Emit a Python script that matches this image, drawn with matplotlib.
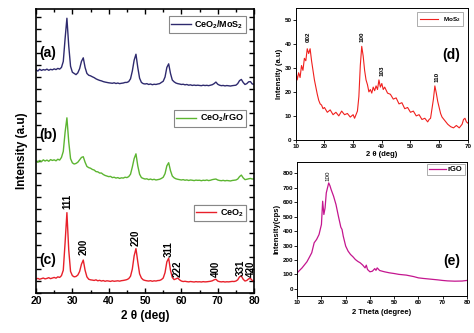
import numpy as np
import matplotlib
matplotlib.use("Agg")
import matplotlib.pyplot as plt
from matplotlib.ticker import MultipleLocator

plt.rcParams['font.family'] = ['Liberation Sans', 'DejaVu Sans']
plt.rcParams['font.weight'] = 'bold'
plt.rcParams['mathtext.fontset'] = 'custom'
plt.rcParams['mathtext.rm'] = 'Liberation Sans:bold'
plt.rcParams['mathtext.it'] = 'Liberation Sans:bold'
plt.rcParams['mathtext.bf'] = 'Liberation Sans:bold'
plt.rcParams['mathtext.default'] = 'rm'

# ---- left panel: XRD patterns (stacked, arbitrary units), 2theta 20..80 step 0.5
two_theta = np.arange(20, 80.5, 0.5)

ceo2 = [
    1.17, 1.22, 1.15, 1.20, 1.25, 1.18, 1.22, 1.28, 1.20, 1.25,
    1.30, 1.24, 1.35, 1.30, 1.45, 1.90, 4.20, 6.70, 3.60, 1.80,
    1.45, 1.35, 1.38, 1.50, 1.80, 2.40, 2.75, 1.90, 1.35, 1.15,
    1.10, 1.08, 1.05, 1.10, 1.02, 1.06, 1.00, 1.04, 0.98, 1.02,
    1.00, 0.97, 1.02, 0.98, 1.00, 1.02, 0.99, 1.03, 1.05, 1.08,
    1.12, 1.20, 1.40, 2.00, 3.10, 3.70, 2.60, 1.60, 1.25, 1.10,
    1.05, 1.02, 1.00, 1.03, 0.98, 1.02, 1.00, 1.04, 1.05, 1.12,
    1.25, 1.70, 2.60, 2.90, 1.90, 1.30, 1.12, 1.18, 1.25, 1.10,
    1.00, 0.96, 0.98, 0.95, 0.93, 0.96, 0.94, 0.92, 0.95, 0.93,
    0.94, 0.92, 0.95, 0.93, 0.94, 0.96, 0.98, 1.02, 1.10, 1.15,
    1.00, 0.95, 0.93, 0.95, 0.92, 0.94, 0.93, 0.95, 0.97, 0.96,
    1.00, 1.10, 1.35, 1.42, 1.15, 1.00, 1.05, 1.18, 1.22, 1.05,
    1.00]

ceo2_rgo = [
    11.00, 10.90, 11.05, 10.95, 11.10, 11.00, 11.08, 10.98, 11.12, 11.05,
    11.10, 11.02, 11.15, 11.08, 11.30, 11.80, 13.40, 14.60, 12.60, 11.20,
    10.85, 10.75, 10.80, 10.90, 11.10, 11.30, 11.36, 10.90, 10.55, 10.45,
    10.40, 10.30, 10.25, 10.12, 10.10, 10.00, 10.00, 9.88, 9.80, 9.75,
    9.70, 9.72, 9.62, 9.65, 9.58, 9.62, 9.55, 9.60, 9.58, 9.65,
    9.62, 9.70, 9.90, 10.50, 11.20, 11.60, 10.60, 9.90, 9.62, 9.55,
    9.50, 9.52, 9.45, 9.50, 9.44, 9.48, 9.42, 9.45, 9.48, 9.55,
    9.65, 9.95, 10.60, 10.86, 10.20, 9.75, 9.60, 9.52, 9.48, 9.45,
    9.42, 9.45, 9.40, 9.43, 9.38, 9.42, 9.40, 9.37, 9.41, 9.39,
    9.40, 9.36, 9.40, 9.38, 9.42, 9.37, 9.40, 9.45, 9.48, 9.50,
    9.42, 9.38, 9.36, 9.39, 9.35, 9.38, 9.36, 9.34, 9.38, 9.40,
    9.42, 9.50, 9.70, 9.83, 9.60, 9.45, 9.48, 9.52, 9.55, 9.50,
    9.52]

ceo2_mos2 = [
    18.60, 18.50, 18.65, 18.55, 18.62, 18.58, 18.66, 18.56, 18.64, 18.60,
    18.68, 18.62, 18.72, 18.66, 18.80, 19.30, 21.20, 22.90, 20.60, 18.90,
    18.40, 18.30, 18.20, 18.35, 18.70, 19.30, 19.60, 18.80, 18.30, 18.15,
    18.10, 18.02, 17.95, 17.85, 17.78, 17.72, 17.68, 17.62, 17.58, 17.55,
    17.52, 17.50, 17.48, 17.52, 17.46, 17.50, 17.45, 17.48, 17.50, 17.55,
    17.55, 17.62, 17.85, 18.50, 19.40, 19.90, 18.80, 17.90, 17.55, 17.45,
    17.42, 17.45, 17.38, 17.42, 17.36, 17.40, 17.38, 17.42, 17.45, 17.55,
    17.65, 18.00, 18.80, 19.10, 18.30, 17.75, 17.60, 17.50, 17.45, 17.42,
    17.38, 17.40, 17.35, 17.38, 17.32, 17.35, 17.30, 17.33, 17.30, 17.32,
    17.30, 17.28, 17.32, 17.29, 17.31, 17.28, 17.32, 17.36, 17.45, 17.58,
    17.40, 17.32, 17.28, 17.30, 17.26, 17.29, 17.27, 17.25, 17.28, 17.30,
    17.32, 17.45, 17.70, 17.80, 17.55, 17.38, 17.45, 17.60, 17.62, 17.42,
    17.40]

ceo2_peaks = ['111', '200', '220', '311', '222', '400', '331', '420']
ceo2_peak_pos = [28.5, 33.0, 47.5, 56.5, 59.0, 69.5, 76.3, 79.0]
ceo2_peak_lbl_y = [7.0, 3.15, 3.9, 3.0, 1.35, 1.35, 1.45, 1.35]

# ---- panel (d): MoS2
mos2_x = [10, 10.5, 11, 11.5, 12, 12.5, 13, 13.5, 14, 14.5, 15, 15.5, 16, 16.5, 17,
          17.5, 18, 18.5, 19, 19.5, 20, 21, 22, 23, 24, 25, 26, 27, 28, 29, 30,
          30.5, 31, 31.5, 32, 32.5, 33, 33.5, 34, 34.5, 35, 35.5, 36, 36.5, 37,
          37.5, 38, 38.5, 39, 39.5, 40, 40.5, 41, 42, 43, 44, 45, 46, 47, 48, 49,
          50, 51, 52, 53, 54, 55, 56, 56.5, 57, 57.5, 58, 58.5, 59, 59.5, 60,
          60.5, 61, 62, 63, 64, 65, 66, 67, 68, 68.5, 69, 69.5, 70]
mos2_y = [29, 25, 28, 26, 31, 29, 34, 33, 38, 36, 38, 33, 29, 25, 22,
          19, 16.5, 15, 14.5, 13, 13.5, 11.5, 12.5, 10.5, 11.5, 10, 12, 10.5, 11, 9.5, 10.5,
          9, 10.5, 12, 18, 31, 39, 35, 29, 25, 23, 20, 21, 19.5, 22,
          20.5, 22.5, 21, 25, 22, 23.5, 21, 22, 19.5, 19, 17, 17.5, 15, 15.5, 13, 13.5,
          11.5, 12, 10, 10.5, 8.5, 9, 7.5, 8.5, 9, 13, 17, 22.5, 19.5, 16, 13.5,
          11, 9.5, 8, 6.5, 5.5, 5, 6, 5, 6.5, 8.5, 9, 7.5, 7]
mos2_peaks = ['002', '100', '103', '110']
mos2_peak_pos = [14.2, 33.0, 40.0, 59.3]
mos2_peak_lbl_y = [41, 41, 26.5, 24]

# ---- panel (e): rGO
rgo_x = [10, 11, 12, 13, 14, 15, 16, 17, 18, 19, 20, 20.5, 21, 21.5, 22, 22.5, 23,
         23.5, 24, 25, 26, 27, 28, 28.5, 29, 30, 31, 32, 33, 34, 35, 36, 37, 38,
         38.5, 39, 40, 41, 42, 42.5, 43, 44, 46, 48, 50, 52, 55, 58, 60, 62, 65,
         68, 70, 72, 75, 78, 80]
rgo_y = [111, 128, 145, 166, 187, 218, 250, 319, 342, 376, 446, 607, 515, 561, 665, 700, 734,
         715, 688, 642, 584, 503, 427, 411, 365, 296, 261, 238, 222, 203, 190, 180, 165, 145,
         164, 134, 118, 122, 140, 128, 145, 127, 118, 111, 106, 100, 95, 85, 76, 72, 67,
         62, 58, 55, 53, 54, 58]

fig = plt.figure(figsize=(4.74, 3.33), dpi=100)

# ---------------- left panel
ax = fig.add_axes([0.076, 0.12, 0.46, 0.853])
ax.plot(two_theta, ceo2_mos2, color='#2e2a6e', lw=1.0, label='CeO$_2$/MoS$_2$')
ax.plot(two_theta, ceo2_rgo, color='#5cb531', lw=1.0, label='CeO$_2$/rGO')
ax.plot(two_theta, ceo2, color='#e8202a', lw=1.0, label='CeO$_2$')
ax.set_xlim(20, 80)
ax.set_ylim(0, 23.67)
ax.xaxis.set_major_locator(MultipleLocator(10))
ax.xaxis.set_minor_locator(MultipleLocator(5))
ax.yaxis.set_major_locator(MultipleLocator(1))
ax.set_yticklabels([])
ax.tick_params(which='both', direction='in', top=True, right=True, width=1.0)
ax.tick_params(which='major', length=3.5, labelsize=7.5, pad=2)
ax.tick_params(which='minor', length=2)
for lab in ax.get_xticklabels():
    lab.set_fontweight('bold')
for s in ax.spines.values():
    s.set_linewidth(1.2)
ax.set_xlabel('2 θ (deg)', fontsize=8.5, fontweight='bold', labelpad=3)
ax.set_ylabel('Intensity (a.u)', fontsize=8.5, fontweight='bold', labelpad=4)

lines = ax.get_lines()
leg_pos = [(0.975, 0.985), (0.975, 0.655), (0.975, 0.32)]
for ln, pos in zip(lines, leg_pos):
    lg = ax.legend(handles=[ln], loc='upper right', bbox_to_anchor=pos, fontsize=6.5,
                   fancybox=False, edgecolor='#888888', framealpha=1, handlelength=2.2,
                   borderpad=0.25, handletextpad=0.4, borderaxespad=0.3)
    lg.get_frame().set_linewidth(0.8)
    ax.add_artist(lg)

ax.text(21.0, 20.0, '(a)', fontsize=10, fontweight='bold', va='center')
ax.text(21.0, 13.2, '(b)', fontsize=10, fontweight='bold', va='center')
ax.text(21.0, 2.75, '(c)', fontsize=10, fontweight='bold', va='center')
for lbl, px, py in zip(ceo2_peaks, ceo2_peak_pos, ceo2_peak_lbl_y):
    ax.text(px, py, lbl, rotation=90, fontsize=7, fontweight='bold',
            ha='center', va='bottom')

# ---------------- panel (d)
axd = fig.add_axes([0.624, 0.58, 0.363, 0.396])
axd.plot(mos2_x, mos2_y, color='#f0201e', lw=0.8, label='MoS$_2$')
axd.set_xlim(10, 70)
axd.set_ylim(0, 55)
axd.xaxis.set_major_locator(MultipleLocator(10))
axd.yaxis.set_major_locator(MultipleLocator(10))
axd.tick_params(direction='out', length=2, width=0.6, labelsize=4.5, pad=1)
for lab in axd.get_xticklabels() + axd.get_yticklabels():
    lab.set_fontweight('bold')
for s in axd.spines.values():
    s.set_linewidth(0.7)
axd.set_xlabel('2 θ (deg)', fontsize=5.5, fontweight='bold', labelpad=1.5)
axd.set_ylabel('Intensity (a.u)', fontsize=5.5, fontweight='bold', labelpad=1.5)
lgd = axd.legend(loc='upper right', fontsize=4.5, fancybox=False, edgecolor='#888888',
                 handlelength=3, borderpad=0.4, borderaxespad=0.7)
lgd.get_frame().set_linewidth(0.6)
axd.text(64.2, 35.3, '(d)', fontsize=10, fontweight='bold', ha='center', va='center')
for lbl, px, py in zip(mos2_peaks, mos2_peak_pos, mos2_peak_lbl_y):
    axd.text(px, py, lbl, rotation=90, fontsize=4.5, fontweight='bold',
             ha='center', va='bottom')

# ---------------- panel (e)
axe = fig.add_axes([0.627, 0.111, 0.358, 0.403])
axe.plot(rgo_x, rgo_y, color='#c4168f', lw=0.9, label='rGO')
axe.set_xlim(10, 80)
axe.set_ylim(-50, 880)
axe.xaxis.set_major_locator(MultipleLocator(10))
axe.set_yticks(range(0, 900, 100))
axe.tick_params(direction='out', length=2, width=0.6, labelsize=4.5, pad=1)
for lab in axe.get_xticklabels() + axe.get_yticklabels():
    lab.set_fontweight('bold')
for s in axe.spines.values():
    s.set_linewidth(0.7)
axe.set_xlabel('2 Theta (degree)', fontsize=5.5, fontweight='bold', labelpad=3)
axe.set_ylabel('Intensity(cps)', fontsize=5.5, fontweight='bold', labelpad=1.5)
lge = axe.legend(loc='upper right', fontsize=5.5, fancybox=False, edgecolor='#888888',
                 handlelength=2.2, borderpad=0.25, handletextpad=0.3, borderaxespad=0.3)
lge.get_frame().set_linewidth(0.6)
axe.text(73.9, 196, '(e)', fontsize=10, fontweight='bold', ha='center', va='center')
axe.text(22.6, 745, '100', rotation=90, fontsize=4.5, ha='center', va='bottom',
         fontweight='normal')

fig.savefig('out.png', dpi=100)
